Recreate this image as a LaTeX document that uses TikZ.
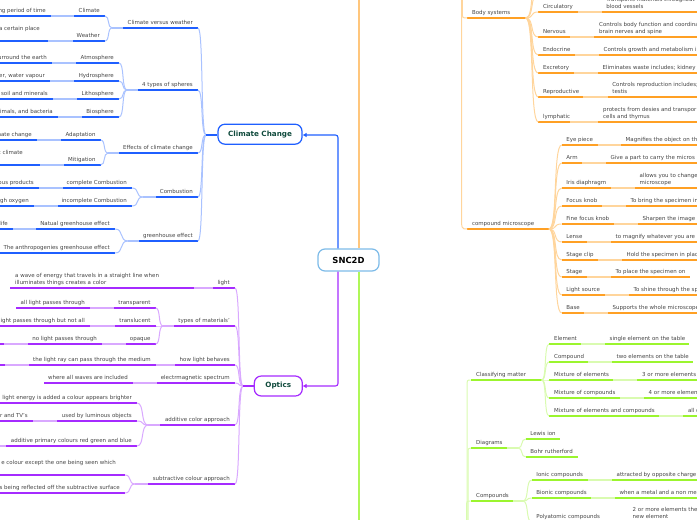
\documentclass[tikz,border=0pt]{standalone}
\usepackage{fontspec}
\setmainfont{DejaVu Sans}
\usetikzlibrary{calc,arrows.meta}
\definecolor{tc}{HTML}{444444}
\definecolor{bluD}{HTML}{1F5FFF}\definecolor{bluL}{HTML}{A9C2FF}
\definecolor{purD}{HTML}{A52BFF}\definecolor{purL}{HTML}{D9A8FF}
\definecolor{oraD}{HTML}{FFA024}\definecolor{oraL}{HTML}{FFD59C}
\definecolor{griD}{HTML}{9BF52E}\definecolor{griL}{HTML}{D9FBB0}
\definecolor{headc}{HTML}{0F4A3C}
\definecolor{rootc}{HTML}{7DBBE8}
\colorlet{cur}{bluD}\colorlet{curl}{bluL}
\tikzset{
  under/.style={draw=cur,line width=1.6pt},
  link/.style={draw=curl,line width=1pt},
  midlink/.style={draw=curl,line width=1.6pt},
  lab/.style={inner sep=0pt,font=\fontsize{5.48}{7}\selectfont,text=tc,text depth=0pt},
  head/.style={rounded corners=7pt,fill=white,line width=1.2pt,inner sep=0pt,font=\fontsize{7.2}{9}\bfseries\selectfont,text=headc},
  main/.style={draw,rounded corners=2.5pt,line width=1.1pt,-{Latex[length=4pt,width=4.5pt]}}
}
% left-hand topic: inset, name, x from, x to, y, text
\newcommand\lt[6][5]{%
  \pgfmathsetmacro\yy{round(#5)}%
  \coordinate (#2a) at (#3,\yy); \coordinate (#2b) at (#4,\yy);
  \draw[under] (#2a) -- (#2b);
  \node[lab,align=right,anchor=south east] (#2) at ($(#2b)+(-#1,-3.7)$) {#6};}
% right-hand topic
\newcommand\rt[6][4.5]{%
  \pgfmathsetmacro\yy{round(#5)}%
  \coordinate (#2a) at (#3,\yy); \coordinate (#2b) at (#4,\yy);
  \draw[under] (#2a) -- (#2b);
  \node[lab,align=left,anchor=south west] (#2) at ($(#2a)+(#1,-3.7)$) {#6};}
\newcommand\lk[2]{\draw[midlink] (#1) -- (#2);}
\newcommand\cv[2]{\draw[link] (#1) .. controls ($(#1)!.7!(#2|-#1)$) and ($(#2)!.7!(#1|-#2)$) .. (#2);}
\begin{document}
\begin{tikzpicture}[x=1pt,y=-1pt]
\clip (0,0) rectangle (697,520);
\node[head,draw=rootc,minimum width=61pt,minimum height=22pt,text=black,font=\fontsize{8.4}{10}\bfseries\selectfont] (root) at (348.5,260) {SNC2D};
\coordinate (otop) at (359,-3);
\coordinate (gbot) at (359,523);
% ---------- main connectors
\draw[main,draw=bluD] ([xshift=-10.5pt]root.north) |- (302.5,135);
\draw[main,draw=purD] ([xshift=-10.5pt]root.south) |- (302.5,386);
\draw[draw=oraD!60!white,line width=1.5pt] ([xshift=10.5pt]root.north) -- (otop);
\draw[draw=griD!80!white,line width=1.5pt] ([xshift=10.5pt]root.south) -- (gbot);
% ---------- climate change
\colorlet{cur}{bluD}\colorlet{curl}{bluL}
\coordinate (ccj) at (206,135);
\lt{cw}{123}{198}{28}{Climate versus weather}
\lt{sph}{138}{198}{90.3}{4 types of spheres}
\lt{eff}{119}{198}{152.7}{Effects of climate change}
\lt{comb}{156}{198}{196.7}{Combustion}
\lt{gre}{139}{198}{240.7}{greenhouse effect}
\cv{ccj}{cwb}\cv{ccj}{sphb}\cv{ccj}{effb}\cv{ccj}{combb}\cv{ccj}{greb}
\coordinate (cwj) at (112,28);\lk{cwa}{cwj}
\lt{clim}{74}{105}{15.7}{Climate}\lt{climv}{0}{51}{15.7}{ng period of time}\lk{clima}{climvb}
\lt{wea}{73}{105}{40.7}{Weather}\lt[8]{weav}{0}{48}{40.7}{a certain place\\~}\lk{weaa}{weavb}
\cv{cwj}{climb}\cv{cwj}{weab}
\coordinate (sphj) at (127,90);\lk{spha}{sphj}
\lt{atm}{76}{119}{63.3}{Atmosphere}\lt{atmv}{0}{52}{63.3}{urround the earth}\lk{atma}{atmvb}
\lt{hyd}{74}{119}{81.3}{Hydrosphere}\lt{hydv}{0}{50}{81.3}{er, water vapour}\lk{hyda}{hydvb}
\lt{lit}{77}{119}{99.3}{Lithosphere}\lt{litv}{0}{53}{99.3}{soil and minerals}\lk{lita}{litvb}
\lt{bio}{82}{119}{117.3}{Biosphere}\lt{biov}{0}{58}{117.3}{imals, and bacteria}\lk{bioa}{biovb}
\cv{sphj}{atmb}\cv{sphj}{hydb}\cv{sphj}{litb}\cv{sphj}{biob}
\coordinate (effj) at (108,153);\lk{effa}{effj}
\lt{ada}{61}{100.7}{140.3}{Adaptation}\lt{adav}{0}{37}{140.3}{nate change}\lk{adaa}{adavb}
\lt{mit}{64}{100.7}{164.7}{Mitigation}\lt[17]{mitv}{0}{40}{164.7}{c climate\\~}\lk{mita}{mitvb}
\cv{effj}{adab}\cv{effj}{mitb}
\coordinate (combj) at (143,197);\lk{comba}{combj}
\lt{cpl}{63}{132}{187.7}{complete Combustion}\lt{cplv}{0}{39}{187.7}{ous products}\lk{cpla}{cplvb}
\lt{inc}{58}{132}{205.7}{incomplete Combustion}\lt{incv}{0}{34}{205.7}{gh oxygen}\lk{inca}{incvb}
\cv{combj}{cplb}\cv{combj}{incb}
\coordinate (grej) at (128,241);\lk{grea}{grej}
\lt{nat}{36}{115}{229}{Natual greenhouse effect}\lt{natv}{0}{13}{229}{life}\lk{nata}{natvb}
\lt{ant}{0}{115}{253.3}{The anthropogenies greenhouse effect}
\cv{grej}{natb}\cv{grej}{antb}
\node[head,draw=bluD,minimum width=84pt,minimum height=20pt] (cc) at (260,134.2) {Climate Change};
\draw[under] (ccj) -- (ccj-|cc.west);
% ---------- optics
\colorlet{cur}{purD}\colorlet{curl}{purL}
\coordinate (opj) at (243,386);
\lt{lig}{213}{235}{288}{light}\rt[5]{ligv}{10}{194}{288}{a wave of energy that travels in a straight line when\\illuminates things creates a color}\lk{liga}{ligvb}
\lt{typ}{174}{235}{326.3}{types of materials'}
\lt{how}{175}{235}{365}{how light behaves}
\lt{ems}{157}{235}{382.7}{electrmagnetic spectrum}
\lt{add}{160}{235}{424.7}{additive color approach}
\lt{sub}{148}{235}{484.3}{subtractive colour approach}
\cv{opj}{ligb}\cv{opj}{typb}\cv{opj}{howb}\cv{opj}{emsb}\cv{opj}{addb}\cv{opj}{subb}
\coordinate (typj) at (163,326);\lk{typa}{typj}
\lt{tra}{114}{155.7}{308.3}{transparent}\lt{trav}{16}{90}{308.3}{all light passes through}\lk{traa}{travb}
\lt{trl}{115}{155.7}{326.3}{translucent}\lt{trlv}{0}{90}{326.3}{light passes through but not all}\lk{trla}{trlvb}
\lt{opa}{126}{155.7}{344.3}{opaque}\lt{opav}{28}{102}{344.3}{no light passes through}\lk{opaa}{opavb}
\coordinate (opastub) at (4,344);\coordinate (opaoff) at (0,344);\draw[under] (opaoff) -- (opastub);\lk{opava}{opastub}
\cv{typj}{trab}\cv{typj}{trlb}\cv{typj}{opab}
\lt{howv}{29}{156}{365}{the light ray can pass through the medium}\lk{howa}{howvb}
\coordinate (howstub) at (5,365);\coordinate (howoff) at (0,365);\draw[under] (howoff) -- (howstub);\lk{howva}{howstub}
\lt{emsv}{44}{133}{382.7}{where all waves are included}\lk{emsa}{emsvb}
\coordinate (addj) at (148,425);\lk{adda}{addj}
\lt{adl}{0}{137}{403.3}{light energy is added a colour appears brighter}
\lt{adu}{57}{137}{421.3}{used by luminous objects}\lt{aduv}{0}{33}{421.3}{er and TV's}\lk{adua}{aduvb}
\lt{adp}{6}{137}{445.7}{additive primary colours red green and blue}
\coordinate (adpstub) at (0,446);\lk{adpa}{adpstub}
\cv{addj}{adlb}\cv{addj}{adub}\cv{addj}{adpb}
\coordinate (subj) at (135,484);\lk{suba}{subj}
\lt[9]{sue}{0}{125}{475.3}{e colour except the one being seen which\\~}
\lt{sus}{0}{125}{493.3}{s being reflected off the subtractive surface}
\cv{subj}{sueb}\cv{subj}{susb}
\node[head,draw=purD,minimum width=48pt,minimum height=20pt] (op) at (278.3,386) {Optics};
\draw[under] (opj) -- (op);
% ---------- body systems
\colorlet{cur}{oraD}\colorlet{curl}{oraL}
\coordinate (ot1) at (462.3,-3);
\coordinate (ot2) at (461.5,-3);
\rt{bod}{467.3}{525.7}{18}{Body systems}
\rt{mic}{467.3}{549}{229}{compound microscope}
\draw[link] (ot1) -- ($(ot1|-boda)+(0,-6)$) .. controls (ot1|-boda) .. (boda);
\draw[link] (ot2) -- ($(ot2|-mica)+(0,-14)$) .. controls (ot2|-mica) .. (mica);
\coordinate (bodoff1) at (538.3,-24);
\coordinate (bodoff2) at (538.3,-6);
\cv{bodb}{bodoff1}\cv{bodb}{bodoff2}
\rt{cir}{538.3}{578}{12.3}{Circulatory}\rt{cirv}{601.7}{697}{12.3}{Transports materials throughout\\blood vessels}\lk{cirb}{cirva}
\rt{ner}{538.3}{570}{36.7}{Nervous}\rt[5]{nerv}{594}{697}{36.7}{Controls body function and coordina\\brain nerves and spine}\lk{nerb}{nerva}
\rt{end}{538.3}{575}{54.7}{Endocrine}\rt{endv}{599}{697}{54.7}{Controls growth and metabolism i}\lk{endb}{endva}
\rt{exc}{538.3}{574}{72.7}{Excretory}\rt{excv}{598}{697}{72.7}{Eliminates waste includes; kidney}\lk{excb}{excva}
\rt{rep}{538.3}{583}{97.3}{Reproductive}\rt{repv}{607.7}{697}{97.3}{Controls reproduction includes;\\testis}\lk{repb}{repva}
\rt{lym}{538.3}{570}{122}{lymphatic}\rt[5]{lymv}{598}{697}{122}{protects from desies and transpor\\cells and thymus}\lk{lymb}{lymva}
\cv{bodb}{cira}\cv{bodb}{nera}\cv{bodb}{enda}\cv{bodb}{exca}\cv{bodb}{repa}\cv{bodb}{lyma}
% ---------- microscope
\rt{eye}{561.7}{597.7}{145}{Eye piece}\rt{eyev}{621}{697}{145}{Magnifies the object on th}\lk{eyeb}{eyeva}
\rt{arm}{561.7}{582}{163}{Arm}\rt{armv}{606}{697}{163}{Give a part to carry the micros}\lk{armb}{armva}
\rt{iri}{561.7}{610.7}{187.7}{Iris diaphragm}\rt{iriv}{635}{697}{187.7}{allows you to change\\microscope}\lk{irib}{iriva}
\rt{foc}{561.7}{602}{205.7}{Focus knob}\rt{focv}{626}{697}{205.7}{To bring the specimen in}\lk{focb}{focva}
\rt{fin}{561.7}{614}{223.7}{Fine focus knob}\rt{finv}{638}{697}{223.7}{Sharpen the image}\lk{finb}{finva}
\rt{len}{561.7}{587}{241.7}{Lense}\rt{lenv}{611}{697}{241.7}{to magnify whatever you are}\lk{lenb}{lenva}
\rt{clp}{561.7}{598}{259.7}{Stage clip}\rt{clpv}{622}{697}{259.7}{Hold the specimen in plac}\lk{clpb}{clpva}
\rt{sta}{561.7}{587}{277.3}{Stage}\rt{stav}{611}{690}{277.3}{To place the specimen on}\lk{stab}{stava}
\rt{lso}{561.7}{605}{295.3}{Light source}\rt{lsov}{629}{697}{295.3}{To shine through the sp}\lk{lsob}{lsova}
\rt{bas}{561.7}{584}{313.3}{Base}\rt{basv}{608}{697}{313.3}{Supports the whole microscope}\lk{basb}{basva}
\cv{micb}{eyea}\cv{micb}{arma}\cv{micb}{iria}\cv{micb}{foca}\cv{micb}{fina}\cv{micb}{lena}\cv{micb}{clpa}\cv{micb}{staa}\cv{micb}{lsoa}\cv{micb}{basa}
% ---------- matter
\colorlet{cur}{griD}\colorlet{curl}{griL}
\coordinate (gt1) at (467,523);
\coordinate (gt2) at (468,523);
\coordinate (gt3) at (466.5,523);
\rt[5.3]{cla}{470.7}{541.7}{380}{Classifying matter}
\rt[5.3]{dia}{470.7}{506.7}{448}{Diagrams}
\rt[5.3]{cpd}{470.7}{513}{500.7}{Compounds}
\draw[link] (gt1) -- ($(gt1|-claa)+(0,7)$) .. controls (gt1|-claa) .. (claa);
\draw[link] (gt2) -- ($(gt2|-diaa)+(0,7)$) .. controls (gt2|-diaa) .. (diaa);
\draw[link] (gt3) -- ($(gt3|-cpda)+(0,7)$) .. controls (gt3|-cpda) .. (cpda);
\rt[5]{ele}{549}{580.7}{344}{Element}\rt{elev}{605}{689.3}{344}{single element on the table}\lk{eleb}{eleva}
\rt[5]{cmp}{549}{588}{362}{Compound}\rt{cmpv}{612}{693.3}{362}{two elements on the table}\lk{cmpb}{cmpva}
\rt[5]{mel}{549}{613}{380}{Mixture of elements}\rt[5]{melv}{637}{697}{380}{3 or more elements}\lk{melb}{melva}
\rt[5]{mco}{549}{620}{398}{Mixture of compounds}\rt{mcov}{644}{697}{398}{4 or more elemen}\lk{mcob}{mcova}
\rt[5]{mec}{549}{659}{416}{Mixture of elements and compounds}\rt{mecv}{683.3}{697}{416}{all c}\lk{mecb}{mecva}
\cv{clab}{elea}\cv{clab}{cmpa}\cv{clab}{mela}\cv{clab}{mcoa}\cv{clab}{meca}
\coordinate (diaj) at (518,448);\lk{diab}{diaj}
\rt{lew}{525.7}{560}{438.7}{Lewis ion}
\rt{boh}{525.7}{577.7}{456.7}{Bohr rutherford}
\cv{diaj}{lewa}\cv{diaj}{boha}
\coordinate (cpdj) at (523,501);\lk{cpdb}{cpdj}
\rt{ion}{531.7}{588}{480}{Ionic compounds}\rt{ionv}{612}{697}{480}{attracted by opposite charge}\lk{ionb}{ionva}
\rt{bin}{531.7}{591}{498}{Bionic compounds}\rt{binv}{615}{697}{498}{when a metal and a non me}\lk{binb}{binva}
\rt{pol}{531.7}{605}{522}{Polyatomic compounds}\rt{polv}{628}{697}{522}{2 or more elements the\\new element}\lk{polb}{polva}
\cv{cpdj}{iona}\cv{cpdj}{bina}\cv{cpdj}{pola}
\end{tikzpicture}
\end{document}
